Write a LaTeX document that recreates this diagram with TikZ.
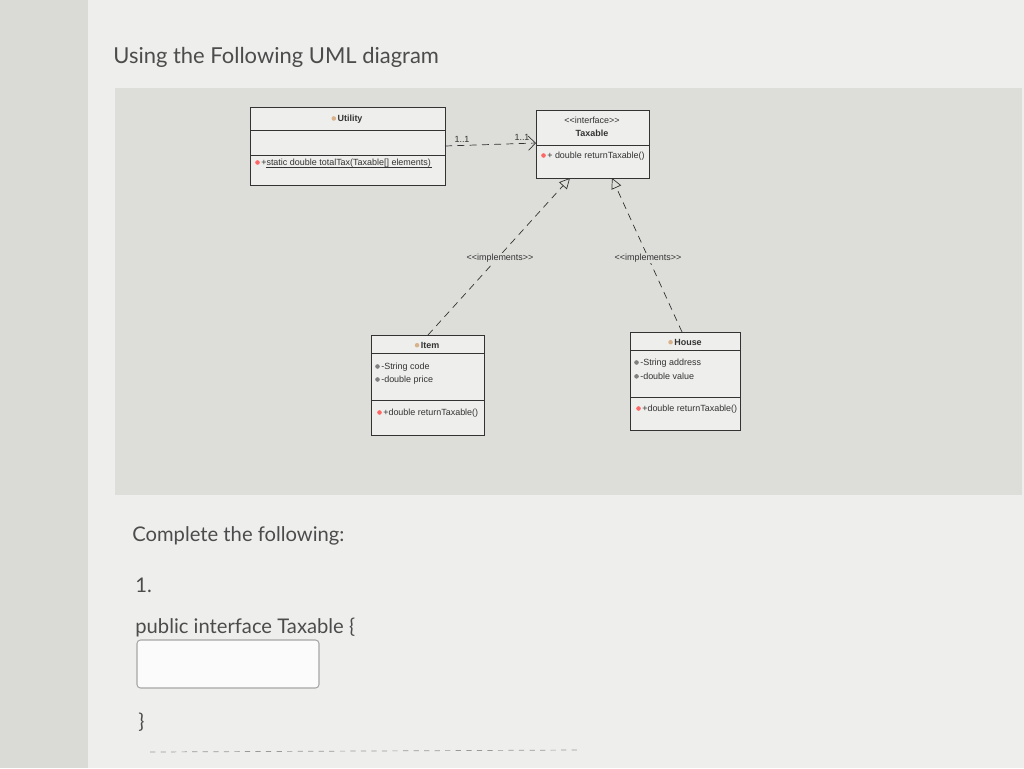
\documentclass[tikz,border=0pt]{standalone}
\usepackage{fontspec}
\setmainfont{Lato}
\newfontfamily\umlf{Liberation Sans}
\usetikzlibrary{arrows.meta}
\definecolor{bg}{HTML}{DADAD7}
\definecolor{pagec}{HTML}{EEEEEC}
\definecolor{panel}{HTML}{DDDDDA}
\definecolor{ink}{HTML}{333333}
\newcommand{\mic}[1]{\tikz[baseline=-0.6ex]\fill[#1] (0,0) circle (1.3pt);\,}
\tikzset{
  x=0.02cm,y=-0.02cm,
  uml/.style={font=\umlf\fontsize{5.1}{6}\selectfont,text=ink,inner sep=0.5pt},
  umlb/.style={uml,font=\umlf\bfseries\fontsize{5.1}{6}\selectfont},
  page/.style={font=\fontsize{11.5}{13}\selectfont,text=black!70,anchor=base west,inner sep=0},
  box/.style={draw=ink,line width=0.5pt},
  dep/.style={draw=ink,dashed,line width=0.4pt,dash pattern=on 4pt off 3pt},
}
\begin{document}
\begin{tikzpicture}
\useasboundingbox (0,0) rectangle (1024,768);
\fill[bg] (0,0) rectangle (1024,768);
\fill[pagec] (88,0) rectangle (1024,768);
\fill[panel] (115,88) rectangle (1022,495);
\node[page,font=\fontsize{12.5}{14}\selectfont] (title) at (113,63) {Using the Following UML diagram};
% Utility
\draw[box,fill=pagec] (250,107) rectangle (445,185);
\draw[box] (250,130)--(445,130) (250,155)--(445,155);
\coordinate (utR) at (445,146);
\node[umlb] (ut) at (347,119) {\mic{brown!60}Utility};
\node[uml,anchor=west] (utm) at (254,163) {\mic{red!60}+static double totalTax(Taxable[] elements)};
\draw[ink,line width=0.4pt] (266,167.5) -- (utm.east |- 0,167.5);
% Taxable
\draw[box,fill=pagec] (536,110) rectangle (649,178);
\draw[box] (536,145)--(649,145);
\node[uml] (ti) at (592,120) {\textless\textless interface\textgreater\textgreater};
\node[umlb] (tt) at (592,133) {Taxable};
\node[uml,anchor=west] (tm) at (540,156) {\mic{red!60}+ double returnTaxable()};
\coordinate (taxL) at (536,143);
\coordinate (taxA) at (570,178);
\coordinate (taxB) at (612,178);
% Item
\draw[box,fill=pagec] (371,335) rectangle (484,435);
\draw[box] (371,353)--(484,353) (371,400)--(484,400);
\node[umlb] (it) at (427,345) {\mic{brown!60}Item};
\node[uml,anchor=west] (i1) at (374,367) {\mic{gray}-String code};
\node[uml,anchor=west] (i2) at (374,380) {\mic{gray}-double price};
\node[uml,anchor=west] (i3) at (376,413) {\mic{red!60}+double returnTaxable()};
\coordinate (itT) at (428,335);
% House
\draw[box,fill=pagec] (630,332) rectangle (740,430);
\draw[box] (630,350)--(740,350) (630,397)--(740,397);
\node[umlb] (ht) at (685,342) {\mic{brown!60}House};
\node[uml,anchor=west] (h1) at (633,363) {\mic{gray}-String address};
\node[uml,anchor=west] (h2) at (633,376) {\mic{gray}-double value};
\node[uml,anchor=west] (h3) at (635,409) {\mic{red!60}+double returnTaxable()};
\coordinate (hoT) at (682,332);
% connectors
\draw[dep,-{Straight Barb[length=4pt]}] (utR) -- (taxL);
\node[uml] (m1) at (462,139) {1..1};
\node[uml] (m2) at (522,137) {1..1};
\draw[dep,-{Triangle[open,length=6pt,width=6pt]}] (itT) -- (taxA);
\draw[dep,-{Triangle[open,length=6pt,width=6pt]}] (hoT) -- (taxB);
\node[uml,fill=panel] (l1) at (500,258) {\textless\textless implements\textgreater\textgreater};
\node[uml,fill=panel] (l2) at (648,258) {\textless\textless implements\textgreater\textgreater};
% lower page
\node[page] (c) at (132,541) {Complete the following:};
\node[page] (n1) at (135,592) {1.};
\node[page] (pi) at (135,633) {public interface Taxable \{};
\draw[black!35,fill=white!97!gray,rounded corners=2pt,line width=0.6pt] (137,640) rectangle (319,688);
\node[page] (cb) at (138,728) {\}};
\draw[black!40,dashed,line width=0.4pt] (150,752) -- (580,750);
\end{tikzpicture}
\end{document}
